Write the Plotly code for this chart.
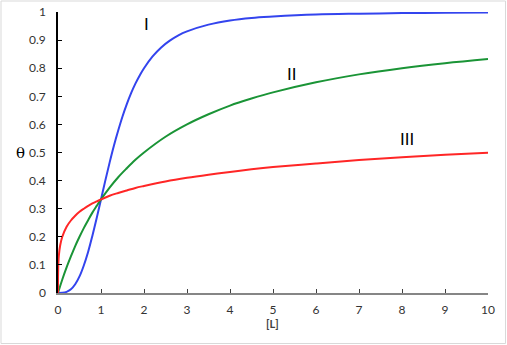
import plotly.graph_objects as go

# Ligand concentration [L] and fractional saturation theta
L_blue = [0, 0.1, 0.2, 0.3, 0.4, 0.5, 0.6, 0.7, 0.8, 0.9, 1.0, 1.1, 1.2, 1.3, 1.4, 1.5, 1.6,
          1.7, 1.8, 1.9, 2.0, 2.2, 2.4, 2.6, 2.8, 3.0, 3.5, 4.0, 4.5, 5.0, 6.0, 7.0, 8.0, 9.0, 10.0]
theta_I = [0, 0.0005, 0.004, 0.013, 0.031, 0.059, 0.098, 0.146, 0.204, 0.267, 0.333,
           0.400, 0.464, 0.524, 0.578, 0.628, 0.672, 0.711, 0.745, 0.774, 0.800,
           0.842, 0.874, 0.898, 0.917, 0.931, 0.955, 0.970, 0.979,
           0.984, 0.991, 0.994, 0.996, 0.997, 0.998]
L_main = [0, 0.1, 0.2, 0.3, 0.4, 0.5, 0.6, 0.7, 0.8, 0.9, 1.0, 1.2, 1.4, 1.6, 1.8,
          2.0, 2.5, 3.0, 3.5, 4.0, 4.5, 5.0, 6.0, 7.0, 8.0, 9.0, 10.0]
theta_II = [0, 0.048, 0.091, 0.130, 0.167, 0.200, 0.231, 0.259, 0.286, 0.310, 0.333,
            0.375, 0.412, 0.444, 0.474, 0.500, 0.556, 0.600, 0.636, 0.667, 0.692,
            0.714, 0.750, 0.778, 0.800, 0.818, 0.833]
L_red = [0, 0.001, 0.005, 0.01, 0.02, 0.05, 0.1, 0.2, 0.3, 0.4, 0.5, 0.6, 0.7, 0.8, 0.9,
         1.0, 1.2, 1.4, 1.6, 1.8, 2.0, 2.5, 3.0, 3.5, 4.0, 4.5, 5.0, 6.0, 7.0, 8.0, 9.0, 10.0]
theta_III = [0, 0.059, 0.093, 0.112, 0.134, 0.169, 0.200, 0.236, 0.258, 0.275, 0.289,
             0.300, 0.310, 0.319, 0.326, 0.333, 0.346, 0.356, 0.365, 0.374, 0.381,
             0.397, 0.410, 0.421, 0.431, 0.440, 0.448, 0.461, 0.473, 0.483, 0.492, 0.499]

labels = ["I", "II", "III"]
label_x = [2.05, 5.44, 8.12]
label_y = [0.957, 0.776, 0.548]

x_ticks = list(range(0, 11))
y_ticks = [0, 0.1, 0.2, 0.3, 0.4, 0.5, 0.6, 0.7, 0.8, 0.9, 1]
y_ticktext = ["0", "0.1", "0.2", "0.3", "0.4", "0.5", "0.6", "0.7", "0.8", "0.9", "1"]

FONT = "Lato, 'Liberation Sans', sans-serif"

fig = go.Figure()
fig.add_trace(go.Scatter(x=L_blue, y=theta_I, mode="lines", line=dict(color="#3344EE", width=2, shape="spline"), name="I"))
fig.add_trace(go.Scatter(x=L_main, y=theta_II, mode="lines", line=dict(color="#1A9436", width=2, shape="spline"), name="II"))
fig.add_trace(go.Scatter(x=L_red, y=theta_III, mode="lines", line=dict(color="#FF2626", width=2, shape="spline"), name="III"))

for t, x, y in zip(labels, label_x, label_y):
    fig.add_annotation(x=x, y=y, text=t, showarrow=False, font=dict(family="'Liberation Sans', sans-serif", size=17, color="#000000"))

fig.add_annotation(xref="paper", yref="paper", x=(20 - 58) / 430, y=(293 - 153) / 281, text="θ",
                   xanchor="center", yanchor="middle",
                   showarrow=False, font=dict(family="'DejaVu Serif', serif", size=15, color="#000000"))

fig.add_annotation(xref="paper", yref="paper", x=(272 - 58) / 430, y=(293 - 323) / 281, text="<b>[L]</b>",
                   xanchor="center", yanchor="middle",
                   showarrow=False, font=dict(family=FONT, size=11, color="#404040"))

fig.add_shape(type="rect", xref="paper", yref="paper",
              x0=(1 - 58) / 430, x1=(505.5 - 58) / 430, y0=(293 - 343.5) / 281, y1=(293 - 1) / 281,
              line=dict(color="#D9D9D9", width=1))

fig.update_layout(
    width=507, height=345,
    margin=dict(l=58, r=19, t=12, b=52, autoexpand=False),
    paper_bgcolor="white", plot_bgcolor="white",
    showlegend=False,
    font=dict(family=FONT, size=12, color="#333333"),
    xaxis=dict(range=[0, 10], tickvals=x_ticks, showgrid=False, zeroline=False, automargin=False,
               showline=True, linecolor="#868686", linewidth=1.5,
               ticks="inside", ticklen=4, tickcolor="#404040", ticklabelstandoff=5),
    yaxis=dict(range=[0, 1], tickvals=y_ticks, ticktext=y_ticktext, showgrid=False, zeroline=False, automargin=False,
               showline=True, linecolor="#000000", linewidth=1.5,
               ticks="inside", ticklen=4, tickcolor="#000000", ticklabelstandoff=8),
)

fig.write_html("out.html")
